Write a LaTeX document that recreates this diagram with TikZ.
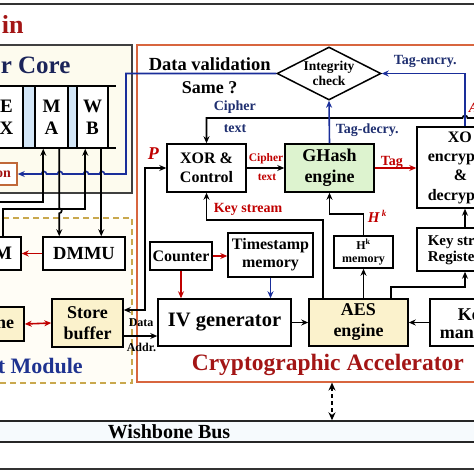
\documentclass[tikz,border=0pt]{standalone}
\usepackage{fontspec}
\setmainfont{Liberation Serif}
\usepackage{xcolor}
\usepackage{tikz}
\usetikzlibrary{arrows,arrows.meta,shapes,positioning,calc}

\definecolor{coreblue}{HTML}{1B2459}
\definecolor{modblue}{HTML}{1F3390}
\definecolor{darkred}{HTML}{A31515}
\definecolor{linered}{HTML}{C00000}
\definecolor{lineblue}{HTML}{1A2E9A}
\definecolor{labelblue}{HTML}{1F2F70}
\definecolor{cream}{HTML}{FBF2CC}
\definecolor{corefill}{HTML}{FDFBEE}
\definecolor{modfill}{HTML}{FFFDF6}
\definecolor{stageblue}{HTML}{D3E6F7}
\definecolor{ghashgreen}{HTML}{DDF3CF}
\definecolor{cryptoedge}{HTML}{D8663F}
\definecolor{modedge}{HTML}{C9A84E}
\definecolor{onedge}{HTML}{C0683A}
\definecolor{busfill}{HTML}{F6FAFD}

\newcommand{\setfs}[2]{\fontsize{#1}{#2}\selectfont}

\begin{document}
\begin{tikzpicture}[x=1pt,y=-1pt,>={Stealth[length=7pt,width=6pt]},
	line width=1.6pt, font=\bfseries]

	\tikzstyle{block}=[rectangle, draw=black, line width=1.5pt,
	inner sep=0pt, align=center, text=black]
	\tikzstyle{stage}=[block, fill=white, minimum height=62pt,
	font=\bfseries\setfs{19}{22}]
	\tikzstyle{frame}=[rectangle, inner sep=0pt, line width=1.2pt]
	\tikzstyle{lbl}=[anchor=base west, inner sep=0pt]

	\useasboundingbox (0,0) rectangle (474,474);

	%frames
	\draw[line width=1.4pt, black!80] (-10,4) rectangle (484,469);

	\node[frame, draw=black!75, fill=corefill,
	minimum width=142pt, minimum height=148pt]
	(core) at (61,119) {};

	\node[frame, draw=modedge, fill=modfill, dashed, dash pattern=on 6pt off 4pt,
	minimum width=142pt, minimum height=165pt]
	(mmod) at (61,300.5) {};

	\node[frame, draw=cryptoedge, line width=1.1pt,
	minimum width=346pt, minimum height=337pt]
	(crypto) at (310,213.5) {};

	\node[frame, draw=black!85, fill=busfill, line width=1.4pt,
	minimum width=494pt, minimum height=21pt]
	(bus) at (237,431.5) {};

	%titles
	\node[lbl, text=darkred, font=\bfseries\setfs{26}{26}] (toptitle) at (1,33) {in};
	\node[lbl, text=coreblue, font=\bfseries\setfs{25}{25}] (coretitle) at (0,73) {r Core};
	\node[lbl, text=modblue, font=\bfseries\setfs{22}{22}] (modtitle) at (-3,373) {t Module};
	\node[lbl, text=darkred, font=\bfseries\setfs{23.5}{23.5}] (cryptotitle) at (191,370)
	{Cryptographic Accelerator};
	\node[lbl, font=\bfseries\setfs{20}{20}] (buslabel) at (107,438) {Wishbone Bus};

	%pipeline
	\draw[line width=1.5pt] (-10,86) -- (116,86);
	\draw[line width=1.5pt] (-10,148) -- (116,148);
	\node[block, fill=stageblue, minimum width=12pt, minimum height=62pt] (sepa) at (29,117) {};
	\node[block, fill=stageblue, minimum width=9pt, minimum height=62pt] (sepb) at (72.5,117) {};
	\node[stage, minimum width=33pt] (ex) at (6.5,117) {E\\X};
	\node[stage, minimum width=33pt] (ma) at (51.5,117) {M\\A};
	\node[stage, minimum width=31pt] (wb) at (92.5,117) {W\\B};

	\node[block, draw=onedge, fill=white, text=darkred,
	minimum width=27pt, minimum height=22pt, font=\bfseries\setfs{14}{14}]
	(onbox) at (3.5,174) {on};

	%memory side
	\node[block, fill=white, minimum width=36pt, minimum height=33pt,
	font=\bfseries\setfs{19}{21}]
	(mbox) at (3,253.5) {M};

	\node[block, fill=white, minimum width=82pt, minimum height=33pt,
	font=\bfseries\setfs{18.5}{21}]
	(dmmu) at (84,253.5) {DMMU};

	\node[block, fill=cream, minimum width=38pt, minimum height=34pt,
	font=\bfseries\setfs{18}{21}]
	(nebox) at (5,324) {ne};

	\node[block, fill=cream, minimum width=71pt, minimum height=48pt,
	font=\bfseries\setfs{18}{21}]
	(sbuf) at (87.5,323) {Store\\buffer};

	%crypto side
	\node[diamond, draw=black, line width=1.5pt, fill=white, inner sep=0pt, aspect=2,
	minimum width=104pt, minimum height=53pt, align=center,
	font=\bfseries\setfs{13.5}{15}]
	(intg) at (329,73.5) {Integrity\\check};

	\node[block, fill=white, minimum width=79pt, minimum height=48pt,
	font=\bfseries\setfs{16}{19}]
	(xorctl) at (206.5,168) {XOR \&\\Control};

	\node[block, fill=ghashgreen, minimum width=89pt, minimum height=48pt,
	font=\bfseries\setfs{18}{21}]
	(ghash) at (329.5,168) {GHash\\engine};

	\node[block, fill=white, minimum width=96pt, minimum height=81pt]
	(xorenc) at (465,167.5) {};
	\node[anchor=west, inner sep=0pt, align=left, font=\bfseries\setfs{16}{19.3}]
	(xorenctxt) at (427,167.5)
	{\hspace*{20pt}XO\\encryp\\\hspace*{26pt}\&\\decryp};

	\node[block, fill=white, minimum width=59pt, minimum height=32pt,
	font=\bfseries\setfs{12}{13}]
	(hkmem) at (363.5,252) {H\textsuperscript{k}\\memory};

	\node[block, fill=white, minimum width=96pt, minimum height=43pt]
	(keyreg) at (465,249.5) {};
	\node[anchor=west, inner sep=0pt, align=left, font=\bfseries\setfs{15}{16}]
	(keyregtxt) at (427,250) {Key str\\Registe};

	\node[block, fill=white, minimum width=62pt, minimum height=28pt,
	font=\bfseries\setfs{16}{18}]
	(counter) at (181,256) {Counter};

	\node[block, fill=white, minimum width=85pt, minimum height=44pt,
	font=\bfseries\setfs{16}{18}]
	(tstamp) at (270.5,255) {Timestamp\\memory};

	\node[block, fill=white, minimum width=133pt, minimum height=47pt,
	font=\bfseries\setfs{20.5}{22}]
	(ivgen) at (224.5,322.5) {IV generator};

	\node[block, fill=cream, minimum width=99pt, minimum height=47pt,
	font=\bfseries\setfs{18}{21}]
	(aes) at (358.5,322.5) {AES\\engine};

	\node[block, fill=white, minimum width=100pt, minimum height=47pt]
	(keymgmt) at (480,322.5) {};
	\node[anchor=west, inner sep=0pt, align=left, font=\bfseries\setfs{18}{18}]
	(keymgmttxt) at (439,324) {\hspace*{18pt}Ke\\man};

	%labels
	\node[lbl, font=\bfseries\setfs{18.5}{18.5}] (datav) at (148,70) {Data validation};
	\node[lbl, font=\bfseries\setfs{18}{18}] (same) at (181,93) {Same ?};
	\node[lbl, text=labelblue, font=\bfseries\setfs{14}{14}] (ctb1) at (213,110) {Cipher};
	\node[lbl, text=labelblue, font=\bfseries\setfs{14}{14}] (ctb2) at (223,132) {text};
	\node[lbl, text=labelblue, font=\bfseries\setfs{14}{14}] (tagd) at (335,133) {Tag-decry.};
	\node[lbl, text=labelblue, font=\bfseries\setfs{14}{14}] (tage) at (393,64) {Tag-encry.};
	\node[lbl, text=linered, font=\bfseries\itshape\setfs{14}{14}] (aadl) at (468,112) {A};
	\node[lbl, text=linered, font=\bfseries\itshape\setfs{18}{18}] (plabel) at (147,159) {P};
	\node[lbl, text=linered, font=\bfseries\setfs{11.5}{11.5}] (ctr1) at (248,161) {Cipher};
	\node[lbl, text=linered, font=\bfseries\setfs{11.5}{11.5}] (ctr2) at (257,180) {text};
	\node[lbl, text=linered, font=\bfseries\setfs{14}{14}] (taglbl) at (380,165) {Tag};
	\node[lbl, text=linered, font=\bfseries\setfs{14}{14}] (kslbl) at (213,212) {Key stream};
	\node[lbl, text=linered, font=\bfseries\itshape\setfs{15}{15}] (hklbl) at (367,222)
	{H\,\raisebox{6pt}{\setfs{9}{9}k}};
	\node[lbl, font=\bfseries\setfs{12}{12}] (datalbl) at (128,326) {Data};
	\node[lbl, font=\bfseries\setfs{12}{12}] (addrlbl) at (126,351) {Addr.};

	\coordinate (ctin) at (484,118);
	\coordinate (memin) at (-10,202);
	\coordinate (busport) at (332,0);

	%blue paths
	\draw[->, lineblue] (intg.west) -| (126,174)
		-- (104.5,174) arc[start angle=0,end angle=-180,radius=2.5]
		-- (88.5,174) arc[start angle=0,end angle=-180,radius=2.5]
		-- (62.5,174) arc[start angle=0,end angle=-180,radius=2.5]
		-- (46.5,174) arc[start angle=0,end angle=-180,radius=2.5]
		-- (onbox.east);
	\draw[->] (ctin) -- (467.5,118) arc[start angle=0,end angle=-180,radius=2.5]
		-| (xorctl.north);
	\draw[->, lineblue] (xorenc.north) |- (intg.east);
	\draw[->, lineblue] (ghash.north) -- (intg.south);

	%crypto paths
	\path[->] (xorctl.east) edge (ghash.west);
	\draw[->, linered] (ghash.east) -- (xorenc.west |- ghash.east);
	\draw[->] ($(aes.north west)+(15,0)$) -- ++(0,-78) -| (xorctl.south);
	\draw[->] (hkmem.north) -- ++(0,-21) -| (ghash.south);
	\draw[->] (aes.north -| hkmem.south) -- (hkmem.south);
	\draw[->] ($(aes.north east)+(-18,0)$) -- ++(0,-11) -| (keyreg.south);
	\path[->] (keyreg.north) edge (xorenc.south);
	\path[->] (keymgmt.west) edge (aes.east);
	\path[->] (ivgen.east) edge (aes.west);
	\draw[->, linered] (counter.east) -- (counter.east -| tstamp.west);
	\draw[->, linered] (counter.south) -- (counter.south |- ivgen.north);
	\draw[->, lineblue] (tstamp.south) -- (tstamp.south |- ivgen.north);

	%memory paths
	\draw[<->] ($(sbuf.east)+(0,-13)$) -- ++(21,0) |- (xorctl.west);
	\draw[->] ($(sbuf.east)+(0,13)$) coordinate (da) -- (da -| ivgen.west);
	\draw[<->, linered] (nebox.east) -- (sbuf.west);
	\draw[->, linered] (dmmu.west) -- (mbox.east);
	\draw[->] (memin) -| ($(ma.south west)+(9,0)$);
	\draw[->] (mbox.north) -- ++(0,-27) -| ($(wb.south west)+(9,0)$);
	\draw[->] ($(ma.south west)+(25,0)$) -- ++(0,59.5)
		arc[start angle=-90,end angle=90,radius=2.5]
		-- ($(dmmu.north west)+(17,0)$);
	\draw[->] ($(wb.south west)+(25,0)$) -- ($(dmmu.north west)+(59,0)$);

	%bus
	\draw[{Stealth[length=8pt,width=7pt]}-{Stealth[length=8pt,width=7pt]},
		dashed, dash pattern=on 4pt off 3pt, line width=2pt]
		(crypto.south -| busport) -- (bus.north -| busport);

\end{tikzpicture}
\end{document}
